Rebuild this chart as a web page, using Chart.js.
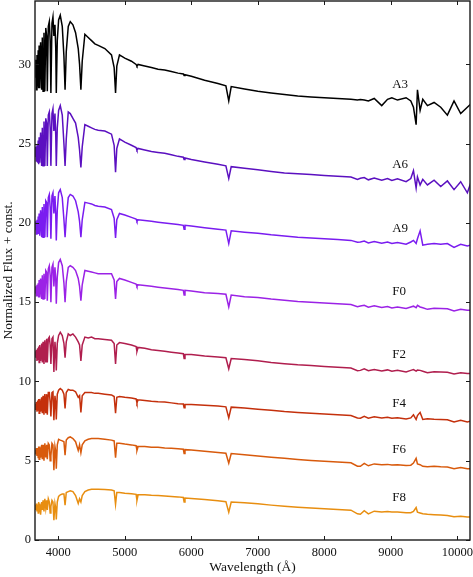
<!DOCTYPE html>
<html>
<head>
<meta charset="utf-8">
<script src="https://cdn.jsdelivr.net/npm/chart.js@4.4.1/dist/chart.umd.min.js"></script>
<style>
html,body{margin:0;padding:0;background:#fff;}
#wrap{width:473px;height:577px;position:relative;}
</style>
</head>
<body>
<div id="wrap"><canvas id="c" width="473" height="577"></canvas></div>
<script>
// Wavelength grid (Å), shared by all spectra
const wavelength = [3650,3660,3670,3680,3690,3698,3705,3712,3721,3734,3750,3760,3771,3785,3798,3812,3825,3835,3850,3865,3878,3889,3905,3920,3934,3950,3962,3970,3985,4005,4030,4060,4085,4102,4120,4150,4180,4220,4260,4300,4320,4340,4360,4400,4450,4500,4550,4600,4700,4800,4840,4861,4880,4920,5000,5100,5170,5183,5200,5300,5400,5500,5600,5700,5800,5880,5892,5905,6000,6200,6400,6520,6563,6600,6800,7000,7200,7400,7600,7800,8000,8200,8400,8498,8542,8600,8662,8750,8863,8950,9015,9100,9229,9300,9340,9380,9400,9440,9480,9550,9650,9750,9850,9950,10050,10150,10200];

// Normalized flux + constant offset, per spectral type
const fluxA3 = [29.2,30.3,28.4,30.6,28.6,30.9,28.5,31.2,28.5,31.4,28.4,31.7,28.3,32.0,28.3,32.3,31.8,28.3,32.4,32.7,31.5,28.2,32.6,33.0,31.8,32.5,31.0,28.2,31.5,32.8,33.1,32.4,30.5,28.4,30.8,32.4,32.7,32.5,32.0,31.0,30.0,28.4,30.2,31.9,31.7,31.5,31.3,31.2,31.0,30.6,29.8,28.2,29.9,30.6,30.4,30.2,30.0,29.9,30.0,29.9,29.8,29.7,29.65,29.55,29.45,29.4,29.3,29.35,29.25,29.0,28.8,28.65,27.7,28.6,28.45,28.3,28.2,28.1,28.0,27.95,27.9,27.85,27.8,27.75,27.78,27.75,27.7,27.85,27.4,27.8,27.9,27.75,27.9,27.7,27.3,26.2,28.4,27.1,27.8,27.4,27.6,27.3,26.8,27.7,26.9,27.3,27.5];
const fluxA6 = [24.2,24.8,23.9,24.9,23.8,25.2,23.7,25.4,23.8,25.7,23.6,26.0,23.6,26.4,23.6,26.6,26.3,23.6,26.8,27.0,26.0,23.6,26.9,27.2,25.8,26.9,25.5,23.6,26.0,27.1,27.4,26.8,25.0,23.6,25.3,27.0,26.9,26.6,26.3,25.4,24.6,23.5,24.8,26.2,26.1,26.0,25.9,25.85,25.8,25.6,24.9,23.2,24.7,25.3,25.1,24.9,24.75,24.6,24.7,24.6,24.5,24.45,24.4,24.3,24.2,24.15,24.0,24.1,24.0,23.85,23.7,23.6,22.8,23.55,23.45,23.35,23.25,23.15,23.1,23.05,23.0,22.95,22.9,22.75,22.82,22.86,22.72,22.83,22.7,22.8,22.68,22.78,22.6,22.8,23.3,22.2,22.9,22.4,22.75,22.4,22.7,22.3,22.65,22.1,22.6,21.9,22.5];
const fluxA9 = [19.6,20.1,19.3,20.2,19.3,20.4,19.3,20.6,19.2,20.8,19.1,21.0,19.1,21.2,19.1,21.4,21.3,19.1,21.6,21.8,21.0,19.0,21.7,21.9,20.6,21.7,20.5,18.9,20.8,21.9,22.1,21.6,20.2,19.1,20.3,21.6,21.8,21.7,21.4,20.7,20.1,19.1,20.2,21.3,21.25,21.2,21.1,21.05,21.0,20.85,20.3,19.05,20.2,20.6,20.5,20.35,20.25,20.1,20.2,20.15,20.1,20.05,20.0,19.95,19.9,19.85,19.6,19.85,19.8,19.7,19.6,19.55,18.7,19.5,19.42,19.35,19.25,19.18,19.1,19.05,19.0,18.95,18.9,18.78,18.8,18.86,18.74,18.83,18.72,18.79,18.7,18.76,18.66,18.8,18.9,18.7,19.0,19.5,18.6,18.65,18.7,18.65,18.7,18.45,18.65,18.55,18.6];
const fluxF0 = [15.6,16.0,15.4,16.1,15.4,16.2,15.3,16.4,15.3,16.5,15.2,16.7,15.2,16.8,15.2,17.0,16.9,15.1,17.1,17.3,16.7,15.0,17.2,17.4,16.0,17.2,16.4,14.9,16.6,17.5,17.7,17.3,16.2,15.0,16.3,17.2,17.3,17.2,17.0,16.5,16.0,15.1,16.1,17.0,16.95,16.9,16.85,16.8,16.8,16.8,16.4,15.2,16.3,16.5,16.4,16.25,16.15,16.0,16.1,16.05,16.0,15.95,15.9,15.85,15.8,15.75,15.45,15.75,15.7,15.6,15.55,15.5,14.7,15.45,15.35,15.3,15.2,15.12,15.05,15.0,14.95,14.9,14.85,14.72,14.76,14.8,14.68,14.77,14.66,14.73,14.63,14.7,14.6,14.7,14.75,14.65,14.8,14.7,14.65,14.55,14.62,14.6,14.58,14.45,14.55,14.5,14.5];
const fluxF2 = [11.9,11.5,12.0,11.3,12.1,11.4,12.2,11.2,12.3,11.3,12.4,11.2,12.5,11.1,12.6,11.2,12.7,11.2,12.7,12.8,12.3,11.1,12.7,12.8,10.6,12.5,11.8,10.7,12.4,12.9,13.1,12.9,12.4,11.5,12.5,13.0,12.9,13.0,12.8,12.5,12.3,11.3,12.3,12.8,12.75,12.8,12.7,12.7,12.65,12.6,12.4,11.1,12.3,12.45,12.4,12.3,12.2,11.9,12.15,12.1,12.0,11.95,11.9,11.85,11.8,11.75,11.45,11.7,11.7,11.6,11.55,11.5,10.8,11.45,11.38,11.3,11.2,11.12,11.05,11.0,10.95,10.9,10.85,10.68,10.7,10.8,10.68,10.76,10.66,10.73,10.64,10.7,10.6,10.7,10.75,10.65,10.72,10.7,10.65,10.55,10.62,10.6,10.58,10.47,10.55,10.5,10.5];
const fluxF4 = [8.6,8.2,8.7,8.1,8.8,8.2,8.9,8.0,8.9,8.1,9.0,8.0,9.1,7.9,9.2,8.0,9.2,7.9,9.3,9.3,8.7,7.8,9.3,9.35,7.55,9.1,8.6,7.6,9.2,9.45,9.55,9.45,9.2,8.3,9.3,9.5,9.45,9.45,9.35,9.0,9.1,8.05,9.1,9.3,9.3,9.3,9.25,9.25,9.2,9.15,9.05,8.0,9.0,9.05,9.0,8.95,8.9,8.65,8.85,8.8,8.75,8.72,8.7,8.65,8.6,8.58,8.35,8.55,8.55,8.5,8.45,8.4,7.7,8.38,8.32,8.25,8.18,8.1,8.05,8.0,7.95,7.9,7.85,7.7,7.68,7.8,7.68,7.77,7.7,7.74,7.68,7.71,7.64,7.7,7.9,7.6,7.85,8.05,7.6,7.65,7.62,7.6,7.58,7.45,7.55,7.45,7.5];
const fluxF6 = [5.7,5.4,5.8,5.3,5.8,5.2,5.9,5.1,5.9,5.2,6.0,5.1,6.0,5.0,6.1,5.2,6.0,5.1,6.1,6.0,5.0,5.3,6.1,6.0,4.4,5.9,5.6,4.5,6.0,6.35,6.3,6.25,6.2,5.35,6.3,6.45,6.5,6.4,6.2,5.65,6.0,5.5,6.0,6.25,6.35,6.4,6.4,6.4,6.35,6.3,6.25,5.2,6.1,6.1,6.05,6.0,5.95,5.65,5.9,5.9,5.85,5.85,5.8,5.78,5.75,5.72,5.45,5.7,5.68,5.6,5.52,5.47,4.85,5.45,5.38,5.3,5.22,5.15,5.08,5.02,4.97,4.92,4.87,4.65,4.65,4.83,4.68,4.8,4.74,4.77,4.73,4.74,4.7,4.72,4.85,5.15,4.8,4.75,4.65,4.62,4.65,4.62,4.6,4.5,4.57,4.5,4.5];
const fluxF8 = [2.2,1.9,2.3,1.8,2.2,1.7,2.4,1.8,2.3,1.6,2.4,1.9,2.5,1.8,2.6,2.0,2.5,1.9,2.6,2.4,1.7,2.1,2.5,2.4,1.25,2.3,2.0,1.3,2.4,2.75,2.85,2.9,2.9,2.2,3.0,3.05,3.1,3.05,2.8,2.3,2.6,2.4,2.8,3.05,3.15,3.2,3.2,3.2,3.18,3.15,3.1,2.25,3.0,3.0,2.95,2.92,2.88,2.5,2.85,2.85,2.82,2.8,2.78,2.75,2.72,2.68,2.4,2.65,2.62,2.55,2.48,2.42,1.75,2.4,2.35,2.28,2.2,2.13,2.07,2.02,1.97,1.92,1.88,1.65,1.62,1.85,1.65,1.82,1.77,1.79,1.76,1.76,1.72,1.72,1.8,2.05,1.75,1.7,1.65,1.62,1.6,1.58,1.55,1.47,1.5,1.45,1.45];

const spectralTypes = ['A3','A6','A9','F0','F2','F4','F6','F8'];
const fluxes = [fluxA3,fluxA6,fluxA9,fluxF0,fluxF2,fluxF4,fluxF6,fluxF8];
const colors = ['#000000','#5b10c0','#7a1cf0','#9b22e6','#b01e4e','#c4300c','#d85a0c','#e88e10'];
// axis tick values
const xTicks = [4000,5000,6000,7000,8000,9000,10000];
const yTicks = [0,5,10,15,20,25,30];
// label positions (data units)
const labelWavelength = 9020;
const labelFlux = [28.7,23.65,19.65,15.66,11.67,8.6,5.69,2.67];

const SERIF = '"Liberation Serif","DejaVu Serif",serif';

const framePlugin = {
  id: 'frame',
  afterDraw(chart) {
    const {ctx, chartArea: a, scales: {x, y}} = chart;
    ctx.save();
    ctx.strokeStyle = '#1a1a1a';
    ctx.lineWidth = 1;
    const L = 4;
    ctx.beginPath();
    x.ticks.forEach(t => {
      const p = Math.round(x.getPixelForValue(t.value)) + 0.5;
      ctx.moveTo(p, a.bottom); ctx.lineTo(p, a.bottom - L);
      ctx.moveTo(p, a.top); ctx.lineTo(p, a.top + L);
    });
    y.ticks.forEach(t => {
      const p = Math.round(y.getPixelForValue(t.value)) + 0.5;
      ctx.moveTo(a.left, p); ctx.lineTo(a.left + L, p);
      ctx.moveTo(a.right, p); ctx.lineTo(a.right - L, p);
    });
    ctx.stroke();
    ctx.lineWidth = 1.4;
    ctx.strokeRect(a.left, a.top, a.right - a.left, a.bottom - a.top);
    ctx.fillStyle = '#111';
    ctx.font = '13px ' + SERIF;
    ctx.textBaseline = 'middle';
    ctx.textAlign = 'left';
    spectralTypes.forEach((n, i) => {
      ctx.fillText(n, x.getPixelForValue(labelWavelength), y.getPixelForValue(labelFlux[i]));
    });
    ctx.restore();
  }
};

new Chart(document.getElementById('c'), {
  type: 'line',
  data: {
    datasets: spectralTypes.map((n, i) => ({
      label: n,
      data: wavelength.map((w, j) => ({x: w, y: fluxes[i][j]})),
      borderColor: colors[i],
      borderWidth: 1.5,
      pointRadius: 0,
      tension: 0,
      fill: false
    }))
  },
  options: {
    responsive: false,
    animation: false,
    layout: {padding: {top: 1, right: 3, left: 0, bottom: 0}},
    plugins: {legend: {display: false}, tooltip: {enabled: false}},
    scales: {
      x: {
        type: 'linear',
        min: 3650, max: 10190,
        afterBuildTicks(s) { s.ticks = xTicks.map(v => ({value: v})); },
        afterFit(s) { s.height = 37; s.paddingLeft = 0; s.paddingRight = 0; },
        grid: {drawOnChartArea: false, drawTicks: false},
        border: {display: false},
        ticks: {autoSkip: false, maxRotation: 0, padding: 5,
                color: '#111', font: {family: SERIF, size: 12.5},
                callback: v => String(v)},
        title: {display: true, text: 'Wavelength (Å)', color: '#111', font: {family: SERIF, size: 13.5}, padding: {top: 0, bottom: 1}}
      },
      y: {
        type: 'linear',
        min: 0, max: 34,
        afterBuildTicks(s) { s.ticks = yTicks.map(v => ({value: v})); },
        afterFit(s) { s.width = 35; s.paddingTop = 0; s.paddingBottom = 0; },
        grid: {drawOnChartArea: false, drawTicks: false},
        border: {display: false},
        ticks: {autoSkip: false, padding: 4,
                color: '#111', font: {family: SERIF, size: 12.5},
                callback: v => String(v)},
        title: {display: true, text: 'Normalized Flux + const.', color: '#111', font: {family: SERIF, size: 13.5}, padding: 0}
      }
    }
  },
  plugins: [framePlugin]
});
</script>
</body>
</html>
